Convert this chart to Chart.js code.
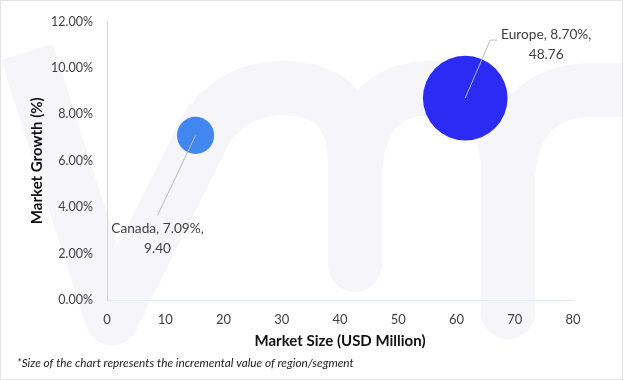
<!DOCTYPE html>
<html>
<head>
<meta charset="utf-8">
<script src="https://cdn.jsdelivr.net/npm/chart.js@4/dist/chart.umd.min.js"></script>
<style>
html,body{margin:0;padding:0;background:#fff;}
#wrap{width:624px;height:380px;position:relative;}
</style>
</head>
<body>
<div id="wrap"><canvas id="c" width="624" height="380"></canvas></div>
<script>
// ---- data ----
const regions = ['Canada', 'Europe'];
const marketSize = [15.2, 61.5];        // x: Market Size (USD Million)
const marketGrowth = [7.09, 8.70];      // y: Market Growth (%)
const incrementalValue = [9.40, 48.76]; // bubble size
const bubbleColors = ['#4287f0', '#2b2bf3'];
const xTicks = [0, 10, 20, 30, 40, 50, 60, 70, 80];
const yTicks = [0, 2, 4, 6, 8, 10, 12];
const footnote = '*Size of the chart represents the incremental value of region/segment';

const FONT = 'Lato, "Open Sans", sans-serif';

const points = regions.map((r, i) => ({
  x: marketSize[i], y: marketGrowth[i], r: 6.06 * Math.sqrt(incrementalValue[i])
}));

// label placement (offsets from bubble centre)
const labelStyle = [
  { path: [[-38, 80]], text: [-38, 93] },
  { path: [[25, -58], [32, -58]], text: [81, -64] }
];

const decor = {
  id: 'decor',
  beforeDraw(chart) {
    const ctx = chart.ctx;
    ctx.save();
    ctx.fillStyle = '#fff';
    ctx.fillRect(0, 0, chart.width, chart.height);
    // faint "vm" watermark logo
    ctx.strokeStyle = '#f5f5fa';
    ctx.lineWidth = 54;
    ctx.lineJoin = 'round';
    ctx.lineCap = 'butt';
    ctx.beginPath();
    ctx.moveTo(27, 52);
    ctx.lineTo(112, 318);
    ctx.lineTo(208, 125);
    ctx.quadraticCurveTo(238, 88, 282, 88);
    ctx.quadraticCurveTo(355, 88, 355, 165);
    ctx.lineTo(355, 268);
    ctx.stroke();
    ctx.beginPath();
    ctx.moveTo(355, 175);
    ctx.quadraticCurveTo(358, 88, 433, 88);
    ctx.quadraticCurveTo(508, 88, 508, 175);
    ctx.lineTo(508, 315);
    ctx.stroke();
    ctx.beginPath();
    ctx.moveTo(508, 180);
    ctx.quadraticCurveTo(512, 91, 592, 90);
    ctx.lineTo(640, 90);
    ctx.stroke();
    ctx.lineCap = 'round';
    ctx.beginPath();
    ctx.moveTo(355, 240); ctx.lineTo(355, 265);
    ctx.moveTo(508, 290); ctx.lineTo(508, 312);
    ctx.stroke();
    ctx.restore();
  },
  afterDatasetsDraw(chart) {
    const ctx = chart.ctx;
    const meta = chart.getDatasetMeta(0);
    ctx.save();
    meta.data.forEach((el, i) => {
      const st = labelStyle[i];
      ctx.strokeStyle = '#b4bccb';
      ctx.lineWidth = 1;
      ctx.beginPath();
      ctx.moveTo(el.x, el.y);
      st.path.forEach(p => ctx.lineTo(el.x + p[0], el.y + p[1]));
      ctx.stroke();
      ctx.fillStyle = '#404040';
      ctx.font = '13.7px ' + FONT;
      ctx.textAlign = 'center';
      ctx.textBaseline = 'middle';
      const tx = el.x + st.text[0], ty = el.y + st.text[1];
      ctx.fillText(regions[i] + ', ' + marketGrowth[i].toFixed(2) + '%,', tx, ty);
      ctx.fillText(incrementalValue[i].toFixed(2), tx, ty + 20);
    });
    ctx.restore();
  },
  afterDraw(chart) {
    const ctx = chart.ctx;
    ctx.save();
    ctx.fillStyle = '#222';
    ctx.font = 'italic 11.8px ' + FONT;
    ctx.textAlign = 'left';
    ctx.textBaseline = 'middle';
    ctx.fillText(footnote, 17, 363);
    ctx.strokeStyle = '#e4e4e4';
    ctx.lineWidth = 1;
    ctx.strokeRect(0.5, 0.5, chart.width - 2, chart.height - 1);
    ctx.restore();
  }
};

new Chart(document.getElementById('c'), {
  type: 'bubble',
  data: {
    datasets: [{
      data: points,
      backgroundColor: bubbleColors,
      borderWidth: 0,
      hoverBorderWidth: 0
    }]
  },
  options: {
    responsive: false,
    animation: false,
    events: [],
    layout: { autoPadding: false, padding: { left: 0, right: 51, top: 19, bottom: 20 } },
    plugins: { legend: { display: false }, tooltip: { enabled: false } },
    scales: {
      x: {
        type: 'linear', min: 0, max: 80,
        afterBuildTicks(s) { s.ticks = xTicks.map(v => ({ value: v })); },
        afterFit(s) { s.height = 60; },
        grid: { display: false, drawTicks: false },
        border: { display: true, color: '#e6ecef', width: 1 },
        ticks: { padding: 12, color: '#404040', font: { family: FONT, size: 13 } },
        title: {
          display: true, text: 'Market Size (USD Million)', color: '#111',
          font: { family: FONT, size: 15, weight: 'bold' },
          padding: { top: 0, bottom: 10 }
        }
      },
      y: {
        type: 'linear', min: 0, max: 12,
        afterBuildTicks(s) { s.ticks = yTicks.map(v => ({ value: v })); },
        afterFit(s) { s.width = 107; },
        grid: { display: false, drawTicks: false },
        border: { display: true, color: '#c8d6e6', width: 1 },
        ticks: {
          padding: 14, color: '#404040', font: { family: FONT, size: 12.5 },
          callback: v => v.toFixed(2) + '%'
        },
        title: {
          display: true, text: 'Market Growth (%)', color: '#111',
          font: { family: FONT, size: 15, weight: 'bold' },
          padding: { top: 28, bottom: 0 }
        }
      }
    }
  },
  plugins: [decor]
});
</script>
</body>
</html>
